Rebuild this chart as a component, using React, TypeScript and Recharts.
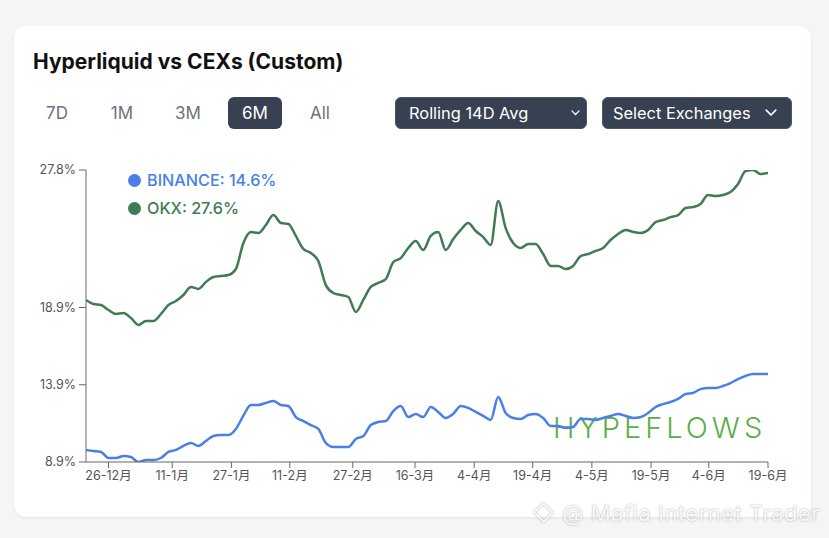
import React from 'react';
import { LineChart, Line, XAxis, YAxis } from 'recharts';

// rolling 14D avg share (%), one sample every ~2 days, 20-12 → 19-6
const binance = [
  9.68, 9.61, 9.55, 9.16, 9.16, 9.29, 9.22, 8.9, 9.03, 9.03,
  9.16, 9.55, 9.68, 9.94, 10.13, 9.94, 10.26, 10.58, 10.65, 10.65,
  11.04, 11.9, 12.59, 12.59, 12.72, 12.85, 12.59, 12.52, 11.81, 11.55,
  11.29, 11.04, 10.13, 9.87, 9.87, 9.87, 10.39, 10.58, 11.29, 11.49,
  11.55, 12.2, 12.52, 11.81, 12.0, 11.81, 12.46, 12.14, 11.75, 12.01,
  12.52, 12.4, 12.14, 11.88, 11.62, 13.11, 12.07, 11.75, 11.68, 11.94,
  12.01, 11.75, 11.23, 11.23, 11.1, 11.17, 11.68, 11.68, 11.62, 11.75,
  11.88, 12.01, 11.88, 11.75, 11.81, 12.07, 12.46, 12.65, 12.78, 12.98,
  13.3, 13.37, 13.62, 13.69, 13.69, 13.82, 14.01, 14.27, 14.47, 14.6,
  14.6, 14.6,
];

const okx = [
  19.39, 19.13, 19.06, 18.74, 18.48, 18.54, 18.22, 17.77, 18.03, 18.03,
  18.48, 19.06, 19.32, 19.71, 20.23, 20.1, 20.55, 20.87, 20.94, 21.0,
  21.39, 23.07, 23.78, 23.72, 24.24, 24.89, 24.37, 24.3, 23.53, 22.69,
  22.43, 21.91, 20.35, 19.84, 19.71, 19.58, 18.61, 19.39, 20.23, 20.49,
  20.74, 21.84, 22.1, 22.75, 23.2, 22.62, 23.53, 23.78, 22.62, 23.33,
  23.92, 24.37, 23.85, 23.46, 22.95, 25.8, 24.04, 23.07, 22.75, 23.01,
  23.01, 22.36, 21.59, 21.59, 21.39, 21.59, 22.23, 22.36, 22.56, 22.75,
  23.27, 23.66, 23.92, 23.79, 23.72, 23.92, 24.43, 24.56, 24.75, 24.88,
  25.34, 25.4, 25.6, 26.18, 26.11, 26.18, 26.37, 26.89, 27.73, 27.8,
  27.54, 27.6,
];

const xTicks = [3, 11.5, 19.4, 27.2, 35.6, 43.9, 51.8, 59.6, 67.5, 75.4, 83.1, 91];
const xLabels = [
  '26-12月', '11-1月', '27-1月', '11-2月', '27-2月', '16-3月',
  '4-4月', '19-4月', '4-5月', '19-5月', '4-6月', '19-6月',
];
const yTicks = [8.9, 13.9, 18.9, 27.8];

const ranges = ['7D', '1M', '3M', '6M', 'All'];
const activeRange = '6M';

const BLUE = '#4a7fe6';
const GREEN = '#3e7c52';
const FONT = 'Inter, "Noto Sans CJK SC", sans-serif';

const data = binance.map((b, i) => ({ idx: i, binance: b, okx: okx[i] }));

function Chevron({ size }: { size: number }) {
  return (
    <svg width={size} height={size * 0.6} viewBox="0 0 10 6">
      <polyline points="1,1 5,5 9,1" fill="none" stroke="#fff" strokeWidth={1.4} strokeLinecap="round" strokeLinejoin="round" />
    </svg>
  );
}

export default function App() {
  const btnCenters = [57, 122, 188, 255, 320];
  return (
    <div style={{ position: 'fixed', inset: 0, background: '#f4f5f7', fontFamily: FONT, overflow: 'hidden' }}>
      <div
        style={{
          position: 'absolute', left: 14, top: 26, width: 797, height: 491,
          background: '#fff', borderRadius: 12, boxShadow: '0 1px 3px rgba(0,0,0,0.08)',
        }}
      />
      <div style={{ position: 'absolute', left: 33, top: 51, fontSize: 21, lineHeight: '21px', fontWeight: 700, color: '#111' }}>
        Hyperliquid vs CEXs (Custom)
      </div>

      {ranges.map((r, i) => (
        <div
          key={r}
          style={{
            position: 'absolute', left: btnCenters[i] - 27, top: 97, width: 54, height: 32,
            display: 'flex', alignItems: 'center', justifyContent: 'center',
            borderRadius: 6, fontSize: 17,
            background: r === activeRange ? '#374151' : 'transparent',
            color: r === activeRange ? '#fff' : '#6b7280',
          }}
        >
          {r}
        </div>
      ))}

      <div
        style={{
          position: 'absolute', left: 395, top: 97, width: 192, height: 32, boxSizing: 'border-box',
          background: '#374151', border: '1px solid #4b5563', borderRadius: 6, color: '#fff', fontSize: 16.4,
          display: 'flex', alignItems: 'center', paddingLeft: 13,
        }}
      >
        <span style={{ flex: 1 }}>Rolling 14D Avg</span>
        <span style={{ marginRight: 6, display: 'flex' }}><Chevron size={9} /></span>
      </div>
      <div
        style={{
          position: 'absolute', left: 602, top: 97, width: 190, height: 32, boxSizing: 'border-box',
          background: '#374151', border: '1px solid #4b5563', borderRadius: 6, color: '#fff', fontSize: 16.4,
          display: 'flex', alignItems: 'center', paddingLeft: 10,
        }}
      >
        <span style={{ flex: 1 }}>Select Exchanges</span>
        <span style={{ marginRight: 14, display: 'flex' }}><Chevron size={12} /></span>
      </div>

      <div
        style={{
          position: 'absolute', left: 553, top: 412, fontSize: 29, fontWeight: 300,
          letterSpacing: 4, color: '#5aae48', lineHeight: '32px',
        }}
      >
        HYPEFLOWS
      </div>

      <div style={{ position: 'absolute', left: 0, top: 0 }}>
        <LineChart width={829} height={538} data={data} margin={{ top: 170, right: 61, bottom: 46, left: 26 }}>
          <XAxis
            dataKey="idx"
            type="number"
            domain={[0, 91]}
            ticks={xTicks}
            allowDataOverflow
            tickFormatter={(_v: number, i: number) => xLabels[i]}
            height={30}
            stroke="#666"
            tickSize={6}
            tickMargin={3}
            tick={{ fontSize: 12.5, fill: '#555', fontFamily: FONT }}
          />
          <YAxis
            type="number"
            domain={[8.9, 27.8]}
            ticks={yTicks}
            allowDataOverflow
            tickFormatter={(v: number) => `${v}%`}
            width={60}
            stroke="#666"
            tickSize={7}
            tickMargin={3}
            tick={{ fontSize: 12.5, fill: '#555', fontFamily: FONT }}
          />
          <Line type="monotone" dataKey="okx" stroke={GREEN} strokeWidth={2.5} dot={false} isAnimationActive={false} />
          <Line type="monotone" dataKey="binance" stroke={BLUE} strokeWidth={2.5} dot={false} isAnimationActive={false} />
        </LineChart>
      </div>

      {[
        { name: 'BINANCE', color: BLUE, last: binance[binance.length - 1], top: 180 },
        { name: 'OKX', color: GREEN, last: okx[okx.length - 1], top: 208 },
      ].map((s) => (
        <div
          key={s.name}
          style={{
            position: 'absolute', left: 128, top: s.top - 10, height: 20,
            display: 'flex', alignItems: 'center', color: s.color, fontSize: 16.2, fontWeight: 500,
          }}
        >
          <span style={{ width: 13, height: 13, borderRadius: '50%', background: s.color, marginRight: 6 }} />
          {s.name}: {s.last}%
        </div>
      ))}

      <div
        style={{
          position: 'absolute', left: 532, top: 500, fontSize: 22, color: 'rgba(255,255,255,0.92)',
          textShadow: '0 0 2px rgba(0,0,0,0.35)', whiteSpace: 'nowrap', letterSpacing: 0.5,
        }}
      >
        ◇ @ Mafia Internet Trader
      </div>
    </div>
  );
}
